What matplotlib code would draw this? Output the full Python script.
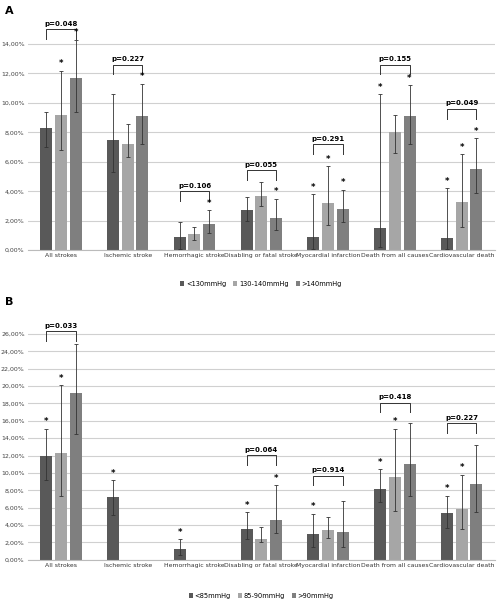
import numpy as np
import matplotlib.pyplot as plt
from matplotlib.ticker import FuncFormatter

categories = ["All strokes", "Ischemic stroke", "Hemorrhagic stroke", "Disabling or fatal stroke",
              "Myocardial infarction", "Death from all causes", "Cardiovascular death"]

# panel A: systolic groups
a_labels = ["<130mmHg", "130-140mmHg", ">140mmHg"]
a_vals = [[8.3, 7.5, 0.9, 2.7, 0.9, 1.5, 0.8],
          [9.2, 7.2, 1.1, 3.7, 3.2, 8.0, 3.3],
          [11.7, 9.1, 1.8, 2.2, 2.8, 9.1, 5.5]]
a_low = [[7.0, 5.3, 0.1, 2.0, 0.1, 0.2, 0.1],
         [6.8, 6.3, 0.7, 3.0, 1.7, 6.6, 1.6],
         [9.4, 7.2, 1.2, 1.4, 1.9, 7.2, 3.9]]
a_high = [[9.4, 10.6, 1.9, 3.6, 3.8, 10.6, 4.2],
          [12.2, 8.6, 1.6, 4.6, 5.7, 9.2, 6.5],
          [14.3, 11.3, 2.7, 3.5, 4.1, 11.2, 7.6]]
a_star = [[0, 0, 0, 0, 1, 1, 1],
          [1, 0, 0, 0, 1, 0, 1],
          [1, 1, 1, 1, 1, 1, 1]]
a_p = {0: ("p=0.048", 15.0), 1: ("p=0.227", 12.6), 2: ("p=0.106", 4.0), 3: ("p=0.055", 5.45),
       4: ("p=0.291", 7.2), 5: ("p=0.155", 12.6), 6: ("p=0.049", 9.6)}

# panel B: diastolic groups
b_labels = ["<85mmHg", "85-90mmHg", ">90mmHg"]
b_vals = [[11.9, 7.2, 1.2, 3.6, 3.0, 8.1, 5.4],
          [12.3, 0, 0, 2.4, 3.4, 9.5, 5.9],
          [19.2, 0, 0, 4.6, 3.2, 11.0, 8.7]]
b_low = [[9.2, 5.2, 0.6, 2.4, 1.5, 6.6, 3.7],
         [7.4, 0, 0, 2.1, 2.5, 5.6, 3.6],
         [14.5, 0, 0, 3.1, 1.5, 7.4, 5.5]]
b_high = [[15.1, 9.2, 2.4, 5.5, 5.3, 10.4, 7.4],
          [20.1, 0, 0, 3.8, 4.9, 15.1, 9.8],
          [24.8, 0, 0, 8.6, 6.8, 15.8, 13.2]]
b_star = [[1, 1, 1, 1, 1, 1, 1],
          [1, 0, 0, 0, 0, 1, 1],
          [0, 0, 0, 1, 0, 0, 0]]
b_p = {0: ("p=0.033", 26.3), 3: ("p=0.064", 12.06), 4: ("p=0.914", 9.7),
       5: ("p=0.418", 18.1), 6: ("p=0.227", 15.7)}

colors = ["#595959", "#a6a6a6", "#7f7f7f"]

fig = plt.figure(figsize=(5, 6), dpi=100)
axA = fig.add_axes([0.055, 0.583, 0.935, 0.405])
axB = fig.add_axes([0.055, 0.067, 0.935, 0.398])


def panel(ax, vals, low, high, star, pvals, labels, ymax, top, step, legy):
    x = np.arange(len(categories))
    w, off = 0.18, 0.22
    for i in range(3):
        v = np.array(vals[i])
        lo = np.array(low[i])
        hi = np.array(high[i])
        pos = x + (i - 1) * off
        ax.bar(pos, v, w, color=colors[i], label=labels[i], zorder=2)
        m = v > 0
        ax.errorbar(pos[m], v[m], yerr=[v[m] - lo[m], hi[m] - v[m]], fmt="none",
                    ecolor="#333333", elinewidth=0.6, capsize=1.2, capthick=0.6, zorder=3)
        for j in range(len(x)):
            if star[i][j] and v[j] > 0:
                ax.text(pos[j], hi[j] + ymax * 0.01, "*", ha="center", va="bottom", fontsize=6, fontweight="bold")
    for j, (t, y) in pvals.items():
        x0, x1 = x[j] - off, x[j] + off
        d = ymax * 0.04
        ax.plot([x0, x0, x1, x1], [y - d, y, y, y - d], color="#333333", lw=0.7, clip_on=False)
        ax.text(x[j], y + ymax * 0.01, t, ha="center", va="bottom", fontsize=5, fontweight="bold")
    ax.set_xlim(-0.5, 6.5)
    ax.set_ylim(0, ymax)
    ax.set_yticks(np.arange(0, top + 0.1, step))
    ax.yaxis.set_major_formatter(FuncFormatter(lambda v, p: f"{v:.2f}%".replace(".", ",")))
    ax.yaxis.grid(True, color="#d0d0d0", lw=0.8, zorder=0)
    ax.set_axisbelow(True)
    for s in ["top", "right", "left"]:
        ax.spines[s].set_visible(False)
    ax.spines["bottom"].set_color("#bbbbbb")
    ax.tick_params(length=0, labelsize=4.5, colors="#444444", pad=2)
    ax.set_xticks(x)
    ax.set_xticklabels(categories, fontsize=4.4, color="#333333")
    ax.legend(loc="center", bbox_to_anchor=(0.5, legy), ncol=3, frameon=False,
              handlelength=0.6, handleheight=0.8, handletextpad=0.3, columnspacing=1.0,
              prop={"size": 4.8})


panel(axA, a_vals, a_low, a_high, a_star, a_p, a_labels, 16.5, 14, 2, -0.14)
panel(axB, b_vals, b_low, b_high, b_star, b_p, b_labels, 27.5, 26, 2, -0.15)

fig.text(0.01, 0.99, "A", fontsize=8, fontweight="bold", va="top")
fig.text(0.01, 0.505, "B", fontsize=8, fontweight="bold", va="top")

fig.savefig("out.png", dpi=100)
